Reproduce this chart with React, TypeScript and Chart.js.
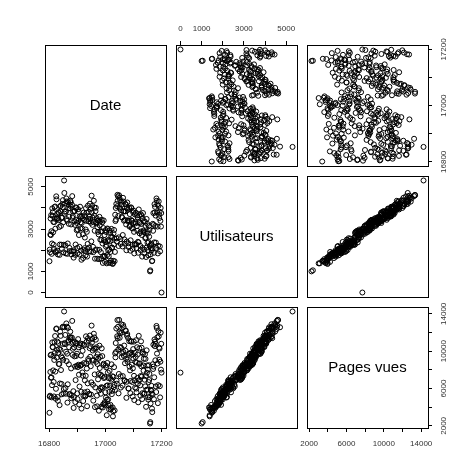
import React, { useEffect, useRef } from 'react';
import { Chart, registerables } from 'chart.js';
Chart.register(...registerables);

// One row per calendar day, starting 2016-01-01 (R Date number 16801)
const START_DATE = 16801;

const users = [
  1480, 2030, 1900, 2740, 3500, 2720, 3660,
  2900, 1830, 2320, 3980, 3630, 3800, 2850,
  3340, 2260, 2060, 3330, 4040, 3490, 4070,
  3020, 1900, 1960, 4550, 4410, 3480, 3520,
  3720, 1980, 1800, 3490, 3800, 3420, 3760,
  3100, 1780, 2270, 4080, 3830, 4100, 3150,
  3540, 2260, 2060, 3530, 4190, 4040, 4370,
  3320, 1900, 2260, 5300, 4710, 3730, 3820,
  4220, 2230, 1850, 3840, 4450, 3470, 4310,
  3400, 1830, 2320, 4280, 3980, 4150, 3250,
  3590, 2110, 1960, 3980, 4340, 4090, 4270,
  3220, 1800, 1960, 4150, 4560, 3530, 3620,
  3820, 1930, 1650, 2000, 3850, 3370, 3860,
  3200, 1780, 2270, 4030, 3430, 4000, 2950,
  3290, 2110, 1860, 2980, 3940, 3390, 3820,
  2720, 1800, 2160, 3600, 4060, 3030, 3320,
  3570, 1980, 1550, 3290, 3600, 3020, 3510,
  2750, 1630, 2020, 3780, 3430, 3650, 2100,
  2600, 1960, 1760, 2980, 3990, 3390, 3770,
  2870, 1700, 2060, 2300, 4110, 3480, 3370,
  3820, 2130, 1950, 3590, 4200, 3470, 3960,
  3300, 1930, 2420, 4580, 3780, 4100, 3200,
  3540, 2160, 1910, 3330, 4340, 3640, 4020,
  2920, 1600, 2010, 3850, 4010, 3330, 3270,
  3520, 2030, 1600, 3090, 3400, 2870, 3410,
  2750, 1580, 2020, 3580, 3180, 3350, 2500,
  2890, 1910, 1610, 2480, 3440, 2890, 3320,
  2320, 1400, 1710, 3050, 3410, 2480, 1700,
  2720, 1730, 1450, 2390, 2950, 2170, 2860,
  2250, 1380, 1770, 3030, 2430, 3000, 2000,
  2490, 1710, 1410, 2030, 2940, 2440, 2820,
  1920, 1400, 1510, 2650, 3010, 2130, 2120,
  2620, 1350, 1380, 1500, 2800, 2270, 2960,
  2550, 1480, 1920, 3680, 3380, 4000, 3450,
  4190, 2560, 2410, 4080, 4620, 4340, 4550,
  3620, 2200, 2610, 4600, 4480, 4030, 3970,
  4370, 2530, 2300, 3890, 4300, 3570, 4160,
  3550, 2180, 2720, 4480, 3830, 4300, 3400,
  3840, 2510, 2310, 3430, 4190, 3840, 4170,
  3220, 2000, 2410, 4000, 4260, 3380, 3420,
  3920, 2330, 2150, 3390, 4000, 3120, 3710,
  3150, 1980, 2470, 4030, 3430, 4000, 3050,
  3390, 2260, 2060, 3030, 3790, 3290, 3870,
  2870, 1850, 2260, 3700, 2300, 3330, 3270,
  3770, 2280, 2100, 3140, 3650, 2920, 3560,
  2400, 1880, 2370, 3930, 3330, 3650, 2800,
  3290, 2210, 2010, 2880, 3690, 3240, 3620,
  2720, 1700, 2110, 3500, 3760, 2930, 2870,
  3370, 2030, 1850, 2840, 3350, 2570, 3160,
  2600, 1680, 2120, 3480, 2880, 3250, 2350,
  2790, 2010, 1760, 2380, 3140, 2640, 2970,
  2200, 1000, 1050, 1800, 2100, 2250, 2300,
  2000, 1480, 1500, 2090, 3250, 2920, 3760,
  3200, 1880, 2370, 4180, 3780, 4050, 3150,
  3640, 2360, 2110, 4450, 4340, 3790, 4170,
  3120, 1850, 2210, 4100, 4310, 3680, 3520,
  3820, 2180, 1950, 3390, 4000, 3120, 3760,
  0,
];

const pageViews = [
  3400, 5120, 5230, 7770, 9570, 7150, 9630,
  7190, 5050, 6360, 10940, 10450, 10410, 7940,
  9470, 6700, 5150, 9060, 10970, 9800, 11620,
  7810, 4910, 5970, 12370, 12430, 9310, 10130,
  11020, 5090, 4690, 9820, 10870, 8630, 10240,
  8620, 4220, 6540, 12090, 10140, 11640, 7980,
  9440, 6490, 5380, 9290, 12550, 10780, 12620,
  9080, 5470, 5950, 14250, 12560, 10870, 10750,
  11740, 6050, 5440, 9940, 12970, 8930, 12620,
  9730, 4490, 6450, 12490, 10990, 11170, 8590,
  10420, 5360, 5410, 11490, 12090, 11260, 11460,
  8150, 4960, 5280, 11450, 13240, 9600, 10250,
  10910, 5710, 3920, 5070, 10400, 9440, 10990,
  8350, 4550, 6900, 10810, 9490, 10870, 8420,
  9730, 5480, 4870, 8290, 11290, 8540, 10420,
  7480, 4280, 6210, 10650, 10830, 8430, 8490,
  9530, 5650, 3850, 8570, 10780, 7720, 10040,
  7370, 4660, 5230, 10710, 8720, 10630, 5590,
  6880, 5240, 5170, 7360, 11590, 8690, 11000,
  8140, 4100, 5670, 6550, 11380, 9160, 8950,
  11110, 5420, 5380, 10320, 11670, 9400, 10530,
  8390, 5350, 6660, 12740, 10900, 11310, 8990,
  10070, 6400, 4700, 9060, 11870, 10250, 11470,
  7510, 4010, 6120, 10270, 11230, 8860, 9380,
  10420, 5240, 4090, 8620, 9670, 6980, 9190,
  7570, 3620, 5790, 10590, 8190, 9390, 6030,
  7490, 5440, 4030, 6140, 10300, 7330, 9470,
  6080, 3970, 4300, 8520, 8660, 7120, 4390,
  7240, 4550, 4240, 5590, 8470, 5030, 8270,
  6280, 3140, 4800, 8740, 6340, 7720, 4840,
  7120, 4160, 3760, 5640, 7890, 6310, 7110,
  4250, 3760, 3930, 6950, 8590, 5400, 5750,
  7310, 3970, 3020, 3570, 7250, 6140, 8290,
  6400, 3650, 5850, 9760, 9340, 10870, 9920,
  12430, 6830, 6520, 11590, 13330, 11390, 12610,
  10180, 5480, 7560, 13350, 12100, 11430, 10440,
  11930, 7300, 6100, 10370, 12880, 9370, 11990,
  9770, 6310, 7330, 12810, 9920, 12580, 9490,
  10600, 6890, 6820, 8710, 12190, 10040, 12200,
  9190, 5000, 6720, 11650, 11830, 8860, 9100,
  11410, 6020, 5980, 9720, 11070, 8350, 9780,
  7940, 5500, 6810, 11090, 9850, 11010, 8540,
  9620, 6700, 5150, 8160, 10220, 9200, 11020,
  7360, 4760, 6870, 9820, 6100, 8860, 9380,
  11170, 5990, 5590, 8770, 10420, 7130, 9640,
  6520, 4520, 6840, 11640, 8640, 10290, 6930,
  8690, 6340, 5230, 7340, 11050, 8380, 10370,
  7280, 4870, 5500, 9870, 9710, 8470, 7900,
  9190, 5450, 5440, 6940, 9670, 6230, 9170,
  7330, 4040, 5850, 10090, 7690, 8470, 5890,
  8020, 5060, 4810, 6690, 8490, 6910, 7560,
  5090, 2250, 2400, 4400, 5860, 5760, 6290,
  5450, 3850, 3470, 5340, 8600, 8090, 10690,
  8350, 4850, 7200, 11260, 10540, 11020, 9020,
  10780, 6230, 5620, 12700, 12490, 9740, 11470,
  8680, 4430, 6360, 12150, 11580, 10380, 9090,
  10280, 6250, 5050, 8870, 11980, 8020, 10790,
  7700,
];

const varNames = ['Date', 'Utilisateurs', 'Pages vues'];

const dateTicks = [16800, 16900, 17000, 17100, 17200];
const dateTickLabels = ['16800', '', '17000', '', '17200'];
const userTicks = [0, 1000, 2000, 3000, 4000, 5000];
const userTickLabels = ['0', '1000', '', '3000', '', '5000'];
const pageTicks = [2000, 4000, 6000, 8000, 10000, 12000, 14000];
const pageTickLabels = ['2000', '', '6000', '', '10000', '', '14000'];

const dates = users.map((_, i) => START_DATE + i);
const columns = [dates, users, pageViews];
const tickSets = [
  { values: dateTicks, labels: dateTickLabels },
  { values: userTicks, labels: userTickLabels },
  { values: pageTicks, labels: pageTickLabels },
];

// R-style range: data range extended by 4% on each side
function rRange(a: number[]): [number, number] {
  const mn = Math.min(...a);
  const mx = Math.max(...a);
  const d = (mx - mn) * 0.04;
  return [mn - d, mx + d];
}
const ranges = columns.map(rRange);

const W = 474;
const PANEL_POS = [45, 176, 307];
const PANEL_SIZE = 121;
const FONT = 'Liberation Sans, Arial, Helvetica, sans-serif';

// which outer axis each panel carries (R pairs convention)
function axisSides(r: number, c: number) {
  return {
    top: r === 0 && c === 1,
    bottom: r === 2 && (c === 0 || c === 2),
    left: c === 0 && r === 1,
    right: c === 2 && (r === 0 || r === 2),
  };
}

const boxPlugin = {
  id: 'panelBox',
  afterDraw(chart: any) {
    const { ctx, chartArea: a } = chart;
    ctx.save();
    ctx.strokeStyle = '#000';
    ctx.lineWidth = 1;
    ctx.strokeRect(Math.round(a.left) + 0.5, Math.round(a.top) + 0.5, Math.round(a.right - a.left), Math.round(a.bottom - a.top));
    ctx.restore();
  },
};

const diagPlugin = {
  id: 'diagLabel',
  afterDraw(chart: any, _args: any, opts: any) {
    if (!opts || !opts.text) return;
    const { ctx, chartArea: a } = chart;
    ctx.save();
    ctx.fillStyle = '#000';
    ctx.font = `15px ${FONT}`;
    ctx.textAlign = 'center';
    ctx.textBaseline = 'middle';
    ctx.fillText(opts.text, (a.left + a.right) / 2, (a.top + a.bottom) / 2);
    ctx.restore();
  },
};

function makeScale(varIdx: number, axis: 'x' | 'y', position: string | null, size: number) {
  const [min, max] = ranges[varIdx];
  const ts = tickSets[varIdx];
  const horizontal = axis === 'x';
  const shown = position !== null;
  return {
    type: 'linear',
    min,
    max,
    display: shown,
    position: position || (horizontal ? 'bottom' : 'left'),
    afterBuildTicks: (s: any) => {
      s.ticks = ts.values.map((v) => ({ value: v }));
    },
    afterFit: (s: any) => {
      const v = shown ? size : 0;
      if (horizontal) s.height = v;
      else s.width = v;
    },
    border: { display: false },
    grid: {
      display: true,
      drawOnChartArea: false,
      drawTicks: true,
      tickLength: 4,
      color: '#000',
      lineWidth: 1,
    },
    ticks: {
      autoSkip: false,
      minRotation: horizontal ? 0 : 90,
      maxRotation: horizontal ? 0 : 90,
      crossAlign: horizontal ? 'near' : 'center',
      padding: horizontal ? 7 : 1,
      color: '#333',
      font: { family: FONT, size: 8 },
      callback: (_v: any, i: number) => ts.labels[i],
    },
  };
}

function Panel({ r, c }: { r: number; c: number }) {
  const ref = useRef<HTMLCanvasElement | null>(null);
  useEffect(() => {
    if (!ref.current) return;
    const sides = axisSides(r, c);
    const m = {
      left: PANEL_POS[c],
      top: PANEL_POS[r],
      right: W - PANEL_POS[c] - PANEL_SIZE,
      bottom: W - PANEL_POS[r] - PANEL_SIZE,
    };
    const diag = r === c;
    const pts = diag
      ? []
      : columns[c].map((xv, i) => ({ x: xv, y: columns[r][i] }));
    const xPos = sides.top ? 'top' : sides.bottom ? 'bottom' : null;
    const yPos = sides.left ? 'left' : sides.right ? 'right' : null;
    const chart = new Chart(ref.current, {
      type: 'scatter',
      data: {
        datasets: [
          {
            data: pts,
            pointRadius: 2.5,
            pointBorderWidth: 1,
            pointBorderColor: '#000',
            pointBackgroundColor: 'rgba(0,0,0,0)',
            showLine: false,
          },
        ],
      },
      options: {
        animation: false,
        responsive: false,
        devicePixelRatio: 1,
        events: [],
        layout: {
          padding: {
            left: yPos === 'left' ? 0 : m.left,
            right: yPos === 'right' ? 0 : m.right,
            top: xPos === 'top' ? 0 : m.top,
            bottom: xPos === 'bottom' ? 0 : m.bottom,
          },
        },
        plugins: {
          legend: { display: false },
          tooltip: { enabled: false },
          diagLabel: { text: diag ? varNames[r] : '' },
        },
        scales: {
          x: makeScale(c, 'x', xPos, xPos === 'top' ? m.top : m.bottom),
          y: makeScale(r, 'y', yPos, yPos === 'left' ? m.left : m.right),
        },
      } as any,
      plugins: [boxPlugin, diagPlugin],
    });
    return () => chart.destroy();
  }, [r, c]);
  return (
    <canvas
      ref={ref}
      width={W}
      height={W}
      style={{ position: 'absolute', left: 0, top: 0, width: W, height: W }}
    />
  );
}

export default function App() {
  const cells: React.ReactNode[] = [];
  for (let r = 0; r < 3; r++) {
    for (let c = 0; c < 3; c++) {
      cells.push(<Panel key={`${r}-${c}`} r={r} c={c} />);
    }
  }
  return (
    <div
      style={{
        position: 'fixed',
        left: 0,
        top: 0,
        width: W,
        height: W,
        background: '#fff',
        overflow: 'hidden',
      }}
    >
      {cells}
    </div>
  );
}
